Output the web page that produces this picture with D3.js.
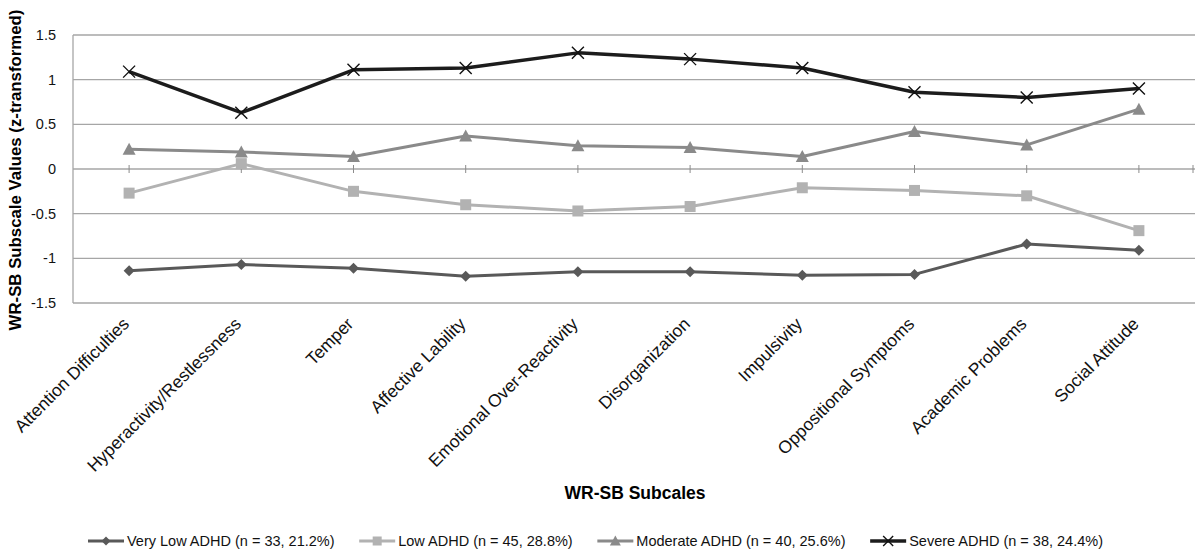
<!DOCTYPE html>
<html>
<head>
<meta charset="utf-8">
<script src="https://cdn.jsdelivr.net/npm/d3@7"></script>
<style>
  body { margin: 0; background: #fff; }
  svg { font-family: "Liberation Sans", Arial, sans-serif; }
</style>
</head>
<body>
<div id="chart"></div>
<script>
const subscales = ["Attention Difficulties", "Hyperactivity/Restlessness", "Temper", "Affective Lability",
  "Emotional Over-Reactivity", "Disorganization", "Impulsivity", "Oppositional Symptoms",
  "Academic Problems", "Social Attitude"]
const veryLow = [-1.14, -1.07, -1.11, -1.20, -1.15, -1.15, -1.19, -1.18, -0.84, -0.91]
const low = [-0.27, 0.06, -0.25, -0.40, -0.47, -0.42, -0.21, -0.24, -0.30, -0.69]
const moderate = [0.22, 0.19, 0.14, 0.37, 0.26, 0.24, 0.14, 0.42, 0.27, 0.67]
const severe = [1.09, 0.63, 1.11, 1.13, 1.30, 1.23, 1.13, 0.86, 0.80, 0.90]
const yTicks = [-1.5, -1, -0.5, 0, 0.5, 1, 1.5]
const seriesNames = ["Very Low ADHD (n = 33, 21.2%)", "Low ADHD (n = 45, 28.8%)",
  "Moderate ADHD (n = 40, 25.6%)", "Severe ADHD (n = 38, 24.4%)"]

const W = 1200, H = 552
const MARGIN = { TOP: 35, LEFT: 73, RIGHT: 5, BOTTOM: 249 }

const series = [
  { name: seriesNames[0], values: veryLow, color: "#595959", marker: "diamond", width: 3 },
  { name: seriesNames[1], values: low, color: "#b2b2b2", marker: "square", width: 3 },
  { name: seriesNames[2], values: moderate, color: "#8a8a8a", marker: "triangle", width: 3 },
  { name: seriesNames[3], values: severe, color: "#1c1c1c", marker: "x", width: 3.5 }
]

const svg = d3.select("#chart").append("svg")
  .attr("width", W).attr("height", H)

const x = d3.scaleBand()
  .domain(subscales)
  .range([MARGIN.LEFT, W - MARGIN.RIGHT])
const y = d3.scaleLinear()
  .domain([-1.5, 1.5])
  .range([H - MARGIN.BOTTOM, MARGIN.TOP])
const cx = d => x(d) + x.bandwidth() / 2

// gridlines
svg.append("g").selectAll("line")
  .data(yTicks)
  .join("line")
    .attr("x1", MARGIN.LEFT).attr("x2", W - MARGIN.RIGHT)
    .attr("y1", d => y(d)).attr("y2", d => y(d))
    .attr("stroke", "#a6a6a6").attr("stroke-width", 1.3)

// left axis line
svg.append("line")
  .attr("x1", MARGIN.LEFT).attr("x2", MARGIN.LEFT)
  .attr("y1", y(1.5)).attr("y2", y(-1.5))
  .attr("stroke", "#a6a6a6").attr("stroke-width", 1.3)

// y axis labels
svg.append("g").selectAll("text")
  .data(yTicks)
  .join("text")
    .attr("x", 56).attr("y", d => y(d))
    .attr("dy", "0.35em")
    .attr("text-anchor", "end")
    .attr("font-size", 14.5)
    .attr("fill", "#111")
    .text(d => d)

// category ticks on the zero line
const tickPos = subscales.map(cx).concat([W - MARGIN.RIGHT - 2])
svg.append("g").selectAll("line")
  .data(tickPos)
  .join("line")
    .attr("x1", d => d).attr("x2", d => d)
    .attr("y1", y(0) - 4).attr("y2", y(0) + 4)
    .attr("stroke", "#8c8c8c").attr("stroke-width", 1)

// category labels
svg.append("g").selectAll("text")
  .data(subscales)
  .join("text")
    .attr("transform", d => `translate(${cx(d) + 1}, ${y(-1.5) + 22}) rotate(-45)`)
    .attr("text-anchor", "end")
    .attr("font-size", 17.5)
    .attr("fill", "#111")
    .text(d => d)

// axis titles
svg.append("text")
  .attr("x", 635).attr("y", 499)
  .attr("text-anchor", "middle")
  .attr("font-size", 17.5).attr("font-weight", "bold")
  .text("WR-SB Subcales")
svg.append("text")
  .attr("transform", "translate(21, 170) rotate(-90)")
  .attr("text-anchor", "middle")
  .attr("font-size", 16.8).attr("font-weight", "bold")
  .text("WR-SB Subscale Values (z-transformed)")

function drawMarker(g, type, color, s) {
  if (type === "diamond") {
    g.append("path").attr("d", `M0,${-s}L${s},0L0,${s}L${-s},0Z`).attr("fill", color)
  } else if (type === "square") {
    g.append("rect").attr("x", -s).attr("y", -s).attr("width", 2 * s).attr("height", 2 * s).attr("fill", color)
  } else if (type === "triangle") {
    g.append("path").attr("d", `M0,${-s - 1}L${s + 1},${s}L${-s - 1},${s}Z`).attr("fill", color)
  } else {
    g.append("path").attr("d", `M${-s},${-s}L${s},${s}M${-s},${s}L${s},${-s}`)
      .attr("stroke", "#111").attr("stroke-width", 1.4).attr("fill", "none")
  }
}

const markerSize = { diamond: 5.5, square: 5.5, triangle: 5.5, x: 6 }

series.forEach(s => {
  const line = d3.line()
    .x((d, i) => cx(subscales[i]))
    .y(d => y(d))
  svg.append("path")
    .datum(s.values)
    .attr("d", line)
    .attr("fill", "none")
    .attr("stroke", s.color)
    .attr("stroke-width", s.width)
    .attr("stroke-linejoin", "round")
  s.values.forEach((v, i) => {
    const g = svg.append("g").attr("transform", `translate(${cx(subscales[i])}, ${y(v)})`)
    drawMarker(g, s.marker, s.color, markerSize[s.marker])
  })
})

// legend, laid out left to right between 88 and 1103
const LEG_START = 88, LEG_END = 1103, LINE_W = 36, TEXT_OFF = 39
const items = series.map(s => {
  const g = svg.append("g")
  g.append("line").attr("x1", 0).attr("x2", LINE_W).attr("y1", 0).attr("y2", 0)
    .attr("stroke", s.color).attr("stroke-width", s.width)
  drawMarker(g.append("g").attr("transform", `translate(${LINE_W / 2}, 0)`),
    s.marker, s.color, s.marker === "x" ? 5 : 4.5)
  const t = g.append("text").attr("x", TEXT_OFF).attr("y", 0).attr("dy", "0.35em")
    .attr("font-size", 14.5).attr("fill", "#111")
    .text(s.name)
  return { g, w: TEXT_OFF + t.node().getComputedTextLength() }
})
const gap = (LEG_END - LEG_START - d3.sum(items, d => d.w)) / (items.length - 1)
let lx = LEG_START
items.forEach(it => {
  it.g.attr("transform", `translate(${lx}, 541)`)
  lx += it.w + gap
})
</script>
</body>
</html>
